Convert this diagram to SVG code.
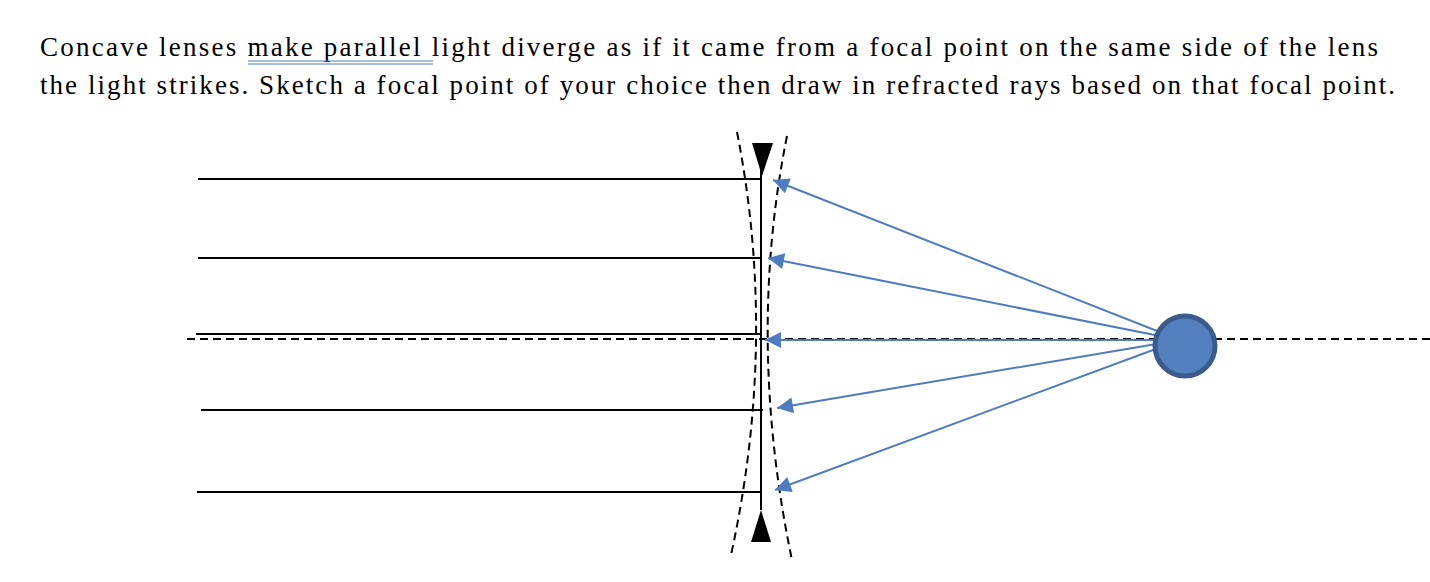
<svg xmlns="http://www.w3.org/2000/svg" width="1430" height="582" viewBox="0 0 1430 582">
<style>
.t{font-family:"Liberation Serif",serif;font-size:27px;fill:#000}
.k{stroke:#000;stroke-width:2;fill:none}
.d{stroke:#000;stroke-width:2;fill:none;stroke-dasharray:8,5}
.r{stroke:#4f7cbf;stroke-width:2;fill:none}
</style>
<defs>
<marker id="b" viewBox="0 0 10 10" refX="10" refY="5" markerWidth="20" markerHeight="16" markerUnits="userSpaceOnUse" orient="auto"><path d="M0,0L10,5L0,10z" fill="#4f7cbf"/></marker>
</defs>
<g id="text">
<text class="t" x="40" y="56" textLength="1338" lengthAdjust="spacing">Concave lenses make  parallel light diverge as if it came from a focal point on the same side of the lens</text>
<text class="t" x="40" y="94" textLength="1355" lengthAdjust="spacing">the light strikes. Sketch a focal point of your choice then draw in refracted rays based on that focal point.</text>
<line x1="248" y1="61" x2="433" y2="61" stroke="#4f7cbf" stroke-width="1"/>
<line x1="248" y1="64" x2="433" y2="64" stroke="#4f7cbf" stroke-width="1"/>
</g>
<g id="lens">
<path class="d" d="M737,132 Q778,340 731,555"/>
<path class="d" d="M787,136 Q746,340 792,560"/>
<line class="k" x1="761" y1="170" x2="761" y2="510"/>
<path d="M752,143L773,143L762,176z" fill="#000"/>
<path d="M751,542L771,542L761,510z" fill="#000"/>
</g>
<g id="connectors">
<line class="d" x1="187" y1="339" x2="1430" y2="339"/>
<line class="k" x1="198" y1="179" x2="762" y2="179"/>
<line class="k" x1="198" y1="258" x2="762" y2="258"/>
<line class="k" x1="196" y1="334" x2="762" y2="334"/>
<line class="k" x1="201" y1="410" x2="763" y2="410"/>
<line class="k" x1="197" y1="492" x2="761" y2="492"/>
<line class="r" x1="1180" y1="340" x2="773" y2="180" marker-end="url(#b)"/>
<line class="r" x1="1180" y1="340" x2="768" y2="258" marker-end="url(#b)"/>
<line class="r" x1="1180" y1="340" x2="765" y2="340" marker-end="url(#b)"/>
<line class="r" x1="1180" y1="340" x2="777" y2="408" marker-end="url(#b)"/>
<line class="r" x1="1180" y1="340" x2="775" y2="490" marker-end="url(#b)"/>
</g>
<g id="focal">
<circle cx="1185" cy="346" r="30" fill="#5580bf" stroke="#3b5b8c" stroke-width="5"/>
</g>
</svg>
